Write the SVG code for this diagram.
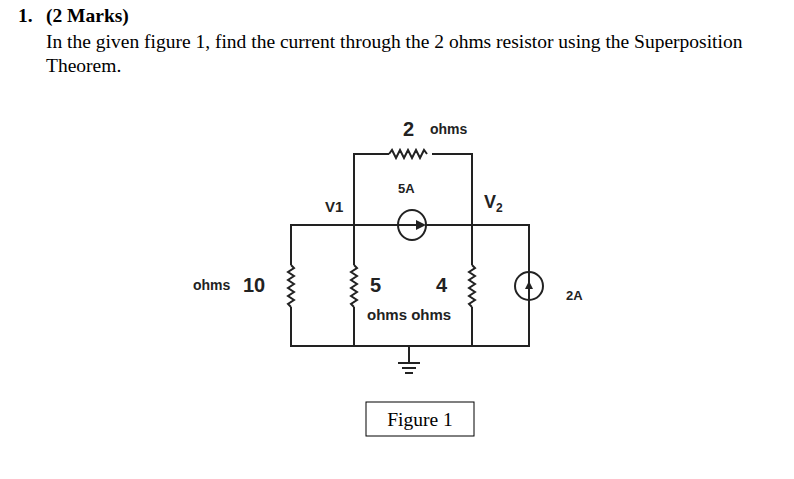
<svg xmlns="http://www.w3.org/2000/svg" width="794" height="479" viewBox="0 0 794 479">
<style>
.w{fill:none;stroke:#222;stroke-width:2}
.s{font-family:"Liberation Sans",Arial,sans-serif;font-weight:bold;fill:#222}
.t{font-family:"Liberation Serif","Times New Roman",serif;font-size:19.5px;fill:#000}
</style>
<rect width="794" height="479" fill="#fff"/>
<text class="t" x="18" y="22" font-weight="bold">1.</text>
<text class="t" x="46" y="22" font-weight="bold">(2 Marks)</text>
<text class="t" x="46" y="48">In the given figure 1, find the current through the 2 ohms resistor using the Superposition</text>
<text class="t" x="46" y="72">Theorem.</text>
<g id="connectors">
<path class="w" d="M354,225 V154 H389 M432,154 H472 V265 M472,307 V346 H291 V307 M291,265 V225 H398 M426,225 H529 V272 M529,300 V346 H472 M354,225 V265 M354,307 V346"/>
</g>
<g id="r2"><path class="w" d="M389,154 l3,-4 l4,8 l4,-8 l4,8 l4,-8 l4,8 l4,-8 l4,8 l4,-8 l3,4"/><text class="s" x="403" y="136" font-size="20">2</text><text class="s" x="430" y="134" font-size="14">ohms</text></g>
<g id="r10"><path class="w" d="M291,265 l3,3 l-6,4 l6,4 l-6,4 l6,4 l-6,4 l6,4 l-6,4 l6,4 l-6,4 l3,3"/><text class="s" x="193" y="290" font-size="14">ohms</text><text class="s" x="243" y="292" font-size="20">10</text></g>
<g id="r5"><path class="w" d="M354,265 l3,3 l-6,4 l6,4 l-6,4 l6,4 l-6,4 l6,4 l-6,4 l6,4 l-6,4 l3,3"/><text class="s" x="370" y="292" font-size="20">5</text></g>
<g id="r4"><path class="w" d="M472,265 l3,3 l-6,4 l6,4 l-6,4 l6,4 l-6,4 l6,4 l-6,4 l6,4 l-6,4 l3,3"/><text class="s" x="436" y="292" font-size="20">4</text><text class="s" x="367" y="320" font-size="15">ohms ohms</text></g>
<g id="s5"><ellipse class="w" cx="412" cy="225" rx="14" ry="15"/><path class="w" d="M398,225 H418"/><path d="M426,225 l-10,-5 v10z" fill="#222"/><text class="s" x="398" y="193" font-size="13">5A</text></g>
<g id="s2"><ellipse class="w" cx="529" cy="286" rx="14" ry="14"/><path class="w" d="M529,272 V300"/><path d="M529,281 l-4,8 h8z" fill="#222"/><text class="s" x="566" y="300" font-size="13">2A</text></g>
<g id="labels"><text class="s" x="325" y="212" font-size="15">V1</text><text class="s" x="484" y="208" font-size="18">V<tspan font-size="12" dy="4">2</tspan></text></g>
<g id="gnd"><path class="w" d="M409,346 V362 M398,363 H420 M402,368 H416 M405,373 H413"/></g>
<g id="fig"><rect x="366" y="402" width="108" height="34" fill="#fff" stroke="#000" stroke-width="1"/><text class="t" x="420" y="426" text-anchor="middle">Figure 1</text></g>
</svg>
